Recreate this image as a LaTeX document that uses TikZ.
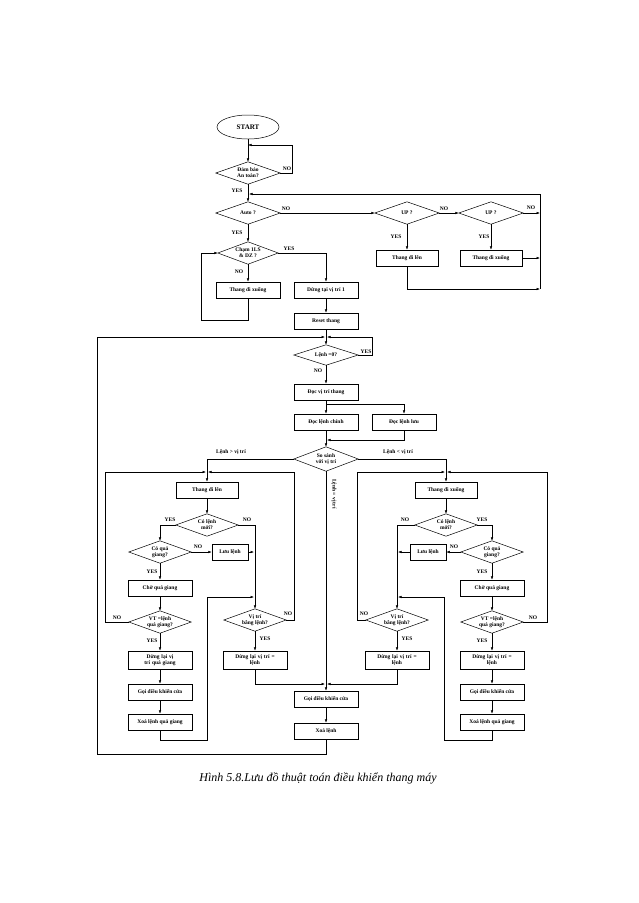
\documentclass[tikz,border=0pt]{standalone}
\usepackage{fontspec}
\setmainfont{Liberation Serif}
\usetikzlibrary{arrows.meta,shapes.geometric}
\newcommand\dnode[6]{\node[dia,minimum width=#4,minimum height=#5] (#1) at (#2,#3) {#6};
 \draw[line width=0.5pt] (#1.west)--(#1.north)--(#1.east)--(#1.south)--cycle;}
\begin{document}
\begin{tikzpicture}[x=1pt,y=-1pt,
 every node/.style={font=\fontsize{5.5}{6}\selectfont\bfseries},
 box/.style={draw,line width=0.5pt,minimum width=64pt,minimum height=16pt,inner sep=1pt,align=center},
 dia/.style={inner sep=0pt,align=center},
 lbl/.style={inner sep=0pt},
 arr/.style={line width=0.5pt,-{Latex[length=3.5pt,width=2.6pt]}},
 ln/.style={line width=0.5pt}]
\useasboundingbox (0,0) rectangle (638,903);
% top
\node[draw,ellipse,line width=0.5pt,minimum width=62pt,minimum height=24pt,font=\fontsize{7}{8}\selectfont\bfseries] (start) at (248,127) {START};
\dnode{safe}{248}{173}{64pt}{22pt}{Đảm bảo\\An toàn?}
\coordinate (j1) at (248,145);
\draw[arr] (start.south) -- (safe.north);
\draw[arr] (safe.east) -- (292,173) |- (j1);
\node[lbl] at (287,169) {NO};
\node[lbl] at (237,191) {YES};
\dnode{auto}{248}{213}{64pt}{22pt}{Auto ?}
\dnode{up1}{407}{213}{64pt}{22pt}{UP ?}
\dnode{up2}{491}{213}{64pt}{22pt}{UP ?}
\draw[arr] (safe.south) -- (auto.north);
\draw[arr] (auto.east) -- (up1.west); \node[lbl] at (286,209) {NO};
\draw[arr] (up1.east) -- (up2.west); \node[lbl] at (444,209) {NO};
\coordinate (r1) at (540,213); \coordinate (r0) at (540,194); \coordinate (r3) at (540,289);
\coordinate (j0) at (249,194);
\draw[arr] (up2.east) -- (r1); \node[lbl] at (531,208) {NO};
\draw[ln] (r0) -- (r3);
\draw[arr] (r0) -- (j0);
\node[box,minimum width=62pt] (tup) at (407,258) {Thang đi lên};
\node[box,minimum width=62pt] (tdn) at (491,258) {Thang đi xuống};
\draw[arr] (up1.south) -- (tup); \node[lbl] at (396,237) {YES};
\draw[arr] (up2.south) -- (tdn); \node[lbl] at (484,237) {YES};
\draw[arr] (tdn.east) -- (540,258);
\draw[arr] (tup.south) |- (r3);
\dnode{ch}{248}{253}{60pt}{22pt}{Chạm 1LS\\\& DZ ?}
\draw[arr] (auto.south) -- (ch.north); \node[lbl] at (237,233) {YES};
\node[box] (td1) at (248,290) {Thang đi xuống};
\node[box] (dung1) at (326,290) {Dừng tại vị trí 1};
\node[box] (reset) at (326,321) {Reset thang};
\draw[arr] (ch.south) -- (td1); \node[lbl] at (239,272) {NO};
\draw[arr] (ch.east) -| (dung1.north); \node[lbl] at (289,249) {YES};
\draw[arr] (td1.south) -- (248,320) -| (201,253) -- (ch.west);
\draw[arr] (dung1) -- (reset);
% middle
\dnode{lenh}{326}{355}{64pt}{20pt}{Lệnh =0?}
\coordinate (jl) at (325,337); \coordinate (jr) at (327,337);
\draw[arr] (reset.south) -- (lenh.north);
\draw[arr] (lenh.east) -- (372,355) |- (jr); \node[lbl] at (366,352) {YES};
\node[box] (doc) at (326,392) {Đọc vị trí thang};
\node[box] (dlc) at (326,422) {Đọc lệnh chính};
\node[box] (dll) at (404,422) {Đọc lệnh lưu};
\draw[arr] (lenh.south) -- (doc); \node[lbl] at (318,371) {NO};
\draw[arr] (doc) -- (dlc);
\draw[arr] (326,404) -| (dll.north);
\dnode{ss}{326}{459}{64pt}{24pt}{So sánh\\với vị trí}
\draw[arr] (dlc) -- (ss);
\draw[arr] (dll.south) |- (327,440);
\node[box,minimum width=62pt] (tl) at (207,490) {Thang đi lên};
\node[box,minimum width=62pt] (tx) at (446,490) {Thang đi xuống};
\draw[arr] (ss.west) -| (tl.north); \node[lbl] at (231,452) {Lệnh > vị trí};
\draw[arr] (ss.east) -| (tx.north); \node[lbl] at (398,452) {Lệnh < vị trí};
\node[box] (goi) at (326,699) {Gọi điều khiển cửa};
\node[box] (xl) at (326,731) {Xoá lệnh};
\draw[arr] (ss.south) -- (goi.north);
\node[lbl,rotate=-90] at (334,494) {Lệnh = vị trí};
\draw[arr] (goi) -- (xl);
\draw[arr] (xl.south) -- (326,754) -| (97,337) -- (jl);
% left branch
\dnode{cm1}{207}{525}{62pt}{22pt}{Có lệnh\\mới?}
\dnode{cq1}{160}{552}{62pt}{22pt}{Có quá\\giang?}
\node[box,minimum width=36pt] (ll1) at (230,552) {Lưu lệnh};
\dnode{vt1}{255}{620}{62pt}{22pt}{Vị trí\\bằng lệnh?}
\draw[arr] (tl) -- (cm1.north);
\draw[arr] (cm1.west) -| (cq1.north); \node[lbl] at (170,520) {YES};
\draw[arr] (cq1.east) -- (ll1.west); \node[lbl] at (198,547) {NO};
\draw[arr] (cm1.east) -| (vt1.north); \node[lbl] at (247,520) {NO};
\draw[arr] (ll1.east) -- (254,552);
\node[box] (cg1) at (160,588) {Chờ quá giang};
\dnode{vq1}{160}{622}{62pt}{22pt}{VT =lệnh\\quá giang?}
\draw[arr] (cq1.south) -- (cg1); \node[lbl] at (152,572) {YES};
\draw[arr] (cg1) -- (vq1.north);
\draw[arr] (vq1.west) -- (105,622) |- (206,472); \node[lbl] at (117,618) {NO};
\draw[arr] (vt1.east) -- (294,620) |- (208,472); \node[lbl] at (288,614) {NO};
\node[box,minimum height=18pt,text width=58pt] (dl1) at (160,660) {Dừng lại vị trí quá giang};
\node[box] (gd1) at (160,692) {Gọi điều khiển cửa};
\node[box] (xq1) at (160,722) {Xoá lệnh quá giang};
\draw[arr] (vq1.south) -- (dl1); \node[lbl] at (152,641) {YES};
\draw[arr] (dl1) -- (gd1); \draw[arr] (gd1) -- (xq1);
\draw[arr] (xq1.south) -- (160,740) -| (207,597) -- (254,597);
\node[box,minimum height=18pt,text width=58pt] (dv1) at (255,660) {Dừng lại vị trí =\\lệnh};
\draw[arr] (vt1.south) -- (dv1); \node[lbl] at (265,639) {YES};
\draw[arr] (dv1.south) |- (325,684);
% right branch
\dnode{cm2}{446}{525}{62pt}{22pt}{Có lệnh\\mới?}
\dnode{cq2}{492}{552}{62pt}{22pt}{Có quá\\giang?}
\node[box,minimum width=36pt] (ll2) at (428,552) {Lưu lệnh};
\dnode{vt2}{397}{620}{62pt}{22pt}{Vị trí\\bằng lệnh?}
\draw[arr] (tx) -- (cm2.north);
\draw[arr] (cm2.east) -| (cq2.north); \node[lbl] at (482,520) {YES};
\draw[arr] (cm2.west) -| (vt2.north); \node[lbl] at (405,520) {NO};
\draw[arr] (cq2.west) -- (ll2.east); \node[lbl] at (454,547) {NO};
\draw[arr] (ll2.west) -- (398,552);
\node[box] (cg2) at (492,588) {Chờ quá giang};
\dnode{vq2}{492}{622}{62pt}{22pt}{VT =lệnh\\quá giang?}
\draw[arr] (cq2.south) -- (cg2); \node[lbl] at (482,572) {YES};
\draw[arr] (cg2) -- (vq2.north);
\draw[arr] (vq2.east) -- (547,622) |- (447,472); \node[lbl] at (533,618) {NO};
\draw[arr] (vt2.west) -- (357,620) |- (445,472); \node[lbl] at (364,614) {NO};
\node[box,minimum height=18pt,text width=58pt] (dl2) at (492,660) {Dừng lại vị trí =\\lệnh};
\node[box] (gd2) at (492,692) {Gọi điều khiển cửa};
\node[box] (xq2) at (492,722) {Xoá lệnh quá giang};
\draw[arr] (vq2.south) -- (dl2); \node[lbl] at (482,641) {YES};
\draw[arr] (dl2) -- (gd2); \draw[arr] (gd2) -- (xq2);
\draw[arr] (xq2.south) -- (492,740) -| (444,597) -- (398,597);
\node[box,minimum height=18pt,text width=58pt] (dv2) at (397,660) {Dừng lại vị trí =\\lệnh};
\draw[arr] (vt2.south) -- (dv2); \node[lbl] at (407,639) {YES};
\draw[arr] (dv2.south) |- (327,684);
% caption
\node[font=\fontsize{12}{14}\selectfont\itshape] (cap) at (318,778) {Hình 5.8.Lưu đồ thuật toán điều khiển thang máy};
\end{tikzpicture}
\end{document}
